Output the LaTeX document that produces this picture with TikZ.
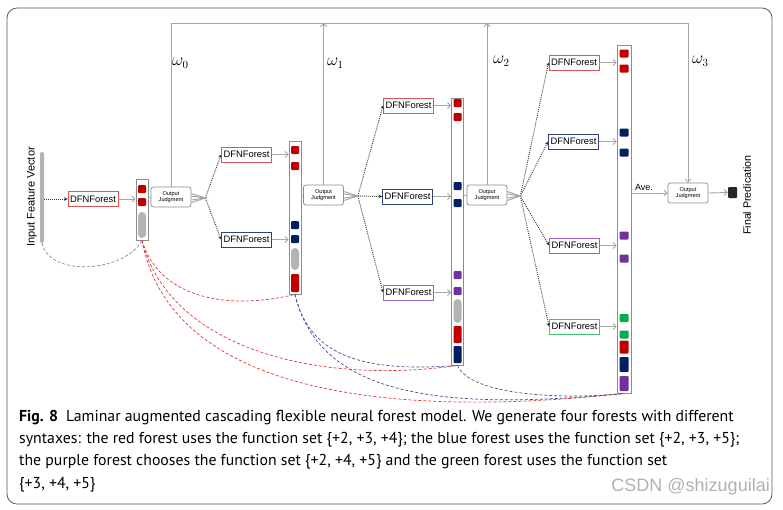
\documentclass[tikz,border=0pt]{standalone}
\usepackage{fontspec}
\setmainfont{Liberation Sans}
\newfontfamily\capfont{PT Sans}
\usetikzlibrary{arrows.meta,calc}
\definecolor{frm}{HTML}{5A5A5A}
\definecolor{lg}{HTML}{A6A6A6}
\definecolor{colb}{HTML}{8C8C8C}
\definecolor{rb}{HTML}{DC5658}
\definecolor{rs}{HTML}{C00000}
\definecolor{bb}{HTML}{334080}
\definecolor{bs}{HTML}{002060}
\definecolor{pb}{HTML}{9E60C8}
\definecolor{ps}{HTML}{7030A0}
\definecolor{gb}{HTML}{40C070}
\definecolor{gs}{HTML}{00B050}
\definecolor{pill}{HTML}{B4B4B4}
\definecolor{rdash}{HTML}{E03A3A}
\definecolor{bdash}{HTML}{44508C}
\begin{document}
\begin{tikzpicture}[x=1pt,y=-1pt,
 dfn/.style={draw=#1, line width=0.9pt, fill=white, minimum width=50pt, minimum height=15pt, inner sep=0pt, font=\fontsize{9.4}{10}\selectfont},
 colbox/.style={draw=colb, line width=0.9pt, fill=white, minimum width=12pt, inner sep=0pt},
 sq/.style={fill=#1, rounded corners=1pt, minimum width=8pt, minimum height=8pt, inner sep=0pt},
 tall/.style={fill=#1, rounded corners=1pt, minimum width=8pt, inner sep=0pt},
 pillbox/.style={fill=pill, rounded corners=4pt, minimum width=8pt, inner sep=0pt},
 oj/.style={draw=colb, fill=white, rounded corners=2.5pt, line width=0.7pt, minimum width=40pt, minimum height=20pt, inner sep=0pt, align=center, font=\fontsize{5.6}{6.5}\selectfont},
 gline/.style={draw=lg, line width=0.9pt},
 garrow/.style={gline, -{Straight Barb[length=3pt,width=6pt]}},
 darrow/.style={draw=black!80, line width=0.9pt, dash pattern=on 0.9pt off 1.1pt, -{Stealth[length=3.5pt,width=3.5pt]}},
 dcurve/.style={line width=0.7pt, dash pattern=on 3pt off 2pt},
 chev/.style={draw=lg, line width=1pt},
 wlab/.style={anchor=west, inner sep=0pt, font=\fontsize{16}{18}\selectfont},
]
\useasboundingbox (0,0) rectangle (783,509);
\fill[white] (0,0) rectangle (783,509);
\draw[frm, line width=0.8pt, rounded corners=10pt] (7,8) rectangle (772,504);

% input vector
\node[fill=pill, rounded corners=2pt, minimum width=4pt, minimum height=91pt, inner sep=0pt] (ifv) at (42,197.5) {};
\node[rotate=90, inner sep=0pt, font=\fontsize{11}{12}\selectfont] (ifvl) at (32,197) {Input Feature Vector};

% layer 1
\node[dfn=rb] (d1) at (93,199) {DFNForest};
\node[colbox, minimum height=61pt] (c1) at (142,209.5) {};
\node[sq=rs] (c1a) at (142,189) {};
\node[sq=rs] (c1b) at (142,202) {};
\node[pillbox, minimum height=26pt] (c1p) at (142,225) {};
\node[oj] (oj1) at (171,197) {Output\\Judgment};
\coordinate (ch1) at ($(oj1.east)+(14,1)$);

% layer 2
\node[dfn=rb] (d2r) at (246.5,154.5) {DFNForest};
\node[dfn=bb] (d2b) at (246.5,239.5) {DFNForest};
\node[colbox, minimum height=153pt] (c2) at (295,217.5) {};
\node[sq=rs] (c2a) at (295,150) {};
\node[sq=rs] (c2b) at (295,166) {};
\node[sq=bs] (c2c) at (295,225) {};
\node[sq=bs] (c2d) at (295,239) {};
\node[pillbox, minimum height=22pt] (c2p) at (295,259) {};
\node[tall=rs, minimum height=18pt] (c2e) at (295,283) {};
\node[oj] (oj2) at (323.5,195) {Output\\Judgment};
\coordinate (ch2) at ($(oj2.east)+(14,1)$);

% layer 3
\node[dfn=rb] (d3r) at (408.5,105.5) {DFNForest};
\node[dfn=bb] (d3b) at (407.5,196.5) {DFNForest};
\node[dfn=pb] (d3p) at (408.5,292.5) {DFNForest};
\node[colbox, minimum height=267pt] (c3) at (457.5,231.5) {};
\node[sq=rs] (c3a) at (457.5,103) {};
\node[sq=rs] (c3b) at (457.5,117) {};
\node[sq=bs] (c3c) at (457.5,186) {};
\node[sq=bs] (c3d) at (457.5,203) {};
\node[sq=ps] (c3e) at (457.5,275) {};
\node[sq=ps] (c3f) at (457.5,291) {};
\node[pillbox, minimum height=24pt] (c3p) at (457.5,311) {};
\node[tall=rs, minimum height=17pt] (c3g) at (457.5,334.5) {};
\node[tall=bs, minimum height=17pt] (c3h) at (457.5,354.5) {};
\node[oj] (oj3) at (487,195) {Output\\Judgment};
\coordinate (ch3) at ($(oj3.east)+(13,1)$);

% layer 4
\node[dfn=rb] (d4r) at (574,62.5) {DFNForest};
\node[dfn=bb] (d4b) at (573.5,141.5) {DFNForest};
\node[dfn=pb] (d4p) at (574.5,245.5) {DFNForest};
\node[dfn=gb] (d4g) at (574.5,326.5) {DFNForest};
\node[colbox, minimum width=14pt, minimum height=348pt] (c4) at (624,219) {};
\node[sq=rs, minimum width=9pt] (c4a) at (624,53.5) {};
\node[sq=rs, minimum width=9pt] (c4b) at (624,68.5) {};
\node[sq=bs, minimum width=9pt] (c4c) at (624,132.5) {};
\node[sq=bs, minimum width=9pt] (c4d) at (624,152.5) {};
\node[sq=ps, minimum width=9pt] (c4e) at (624,235.5) {};
\node[sq=ps, minimum width=9pt] (c4f) at (624,258.5) {};
\node[sq=gs, minimum width=9pt] (c4g) at (624,318) {};
\node[sq=gs, minimum width=9pt] (c4h) at (624,334.5) {};
\node[tall=rs, minimum width=9pt, minimum height=13pt] (c4i) at (624,347) {};
\node[tall=bs, minimum width=9pt, minimum height=15pt] (c4j) at (624,364.5) {};
\node[tall=ps, minimum width=9pt, minimum height=15pt] (c4k) at (624,383.5) {};

% final
\node[oj] (oj4) at (688,193) {Output\\Judgment};
\node[fill=black!85, rounded corners=1pt, minimum width=9pt, minimum height=11pt, inner sep=0pt] (fp) at (732.5,192.5) {};
\node[rotate=90, inner sep=0pt, font=\fontsize{10.7}{12}\selectfont] (fpl) at (747,195) {Final Predication};
\node[inner sep=0pt, font=\fontsize{9}{10}\selectfont] (ave) at (644,187) {Ave.};

% weight lines
\coordinate (tr) at (688,23);
\draw[gline] (oj1.north) |- (tr);
\draw[garrow] (tr) -- (oj4.north);
\draw[garrow] (oj2.north) -- (oj2.north |- tr);
\draw[garrow] (oj3.north) -- (oj3.north |- tr);
\node[wlab] (w0) at (172,63) {$\omega_0$};
\node[wlab] (w1) at (327,63) {$\omega_1$};
\node[wlab] (w2) at (493,61) {$\omega_2$};
\node[wlab] (w3) at (692,61) {$\omega_3$};

% dotted arrows
\draw[darrow] (ifv.east |- d1) -- (d1.west);
\draw[darrow] (ch1) -- (d2r.west);
\draw[darrow] (ch1) -- (d2b.west);
\draw[darrow] (ch2) -- (d3r.west);
\draw[darrow] (ch2) -- (d3b.west);
\draw[darrow] (ch2) -- (d3p.west);
\draw[darrow] (ch3) -- (d4r.west);
\draw[darrow] (ch3) -- (d4b.west);
\draw[darrow] (ch3) -- (d4p.west);
\draw[darrow] (ch3) -- (d4g.west);

% gray arrows into columns
\foreach \d/\c in {d1/c1,d2r/c2,d2b/c2,d3r/c3,d3b/c3,d3p/c3,d4r/c4,d4b/c4,d4p/c4,d4g/c4}
  \draw[garrow] (\d.east) -- (\d.east -| \c.west);
% columns to judgments
\foreach \c/\o in {c1/oj1,c2/oj2,c3/oj3}
  \draw[gline] (\o.west -| \c.east) -- (\o.west);
\draw[garrow] (oj4.west -| c4.east) -- (oj4.west);
\draw[garrow] (oj4.east) -- (fp.west);
% chevrons
\foreach \o/\t in {oj1/ch1,oj2/ch2,oj3/ch3}{
  \draw[chev] ($(\o.east)+(0,-3.5)$) -- (\t) -- ($(\o.east)+(0,5.5)$);
  \draw[chev] ($(\o.east)+(0,-1)$) -- (\t) -- ($(\o.east)+(0,3)$);
}

% dashed skip curves
\draw[dcurve, draw=black!45] (ifv.south) .. controls (50,278) and (125,272) .. (c1.south);
\draw[dcurve, draw=rdash] (c1.south) .. controls (160,300) and (230,310) .. (c2.south);
\draw[dcurve, draw=rdash] (c1.south) .. controls (170,350) and (320,385) .. (c3.south);
\draw[dcurve, draw=rdash] (c1.south) .. controls (170,390) and (380,420) .. (c4.south);
\draw[dcurve, draw=bdash] (c2.south) .. controls (310,360) and (370,372) .. (c3.south);
\draw[dcurve, draw=bdash] (c2.south) .. controls (320,400) and (450,410) .. (c4.south);
\draw[dcurve, draw=black!65] (c3.south) .. controls (470,395) and (560,400) .. (c4.south);

% caption
\begin{scope}[every node/.style={anchor=base west, inner sep=0pt, font=\capfont\fontsize{15.8}{18}\selectfont}]
\node (cap1) at (19,421) {{\bfseries Fig. 8}\enspace Laminar augmented cascading flexible neural forest model. We generate four forests with different};
\node (cap2) at (19,443) {syntaxes: the red forest uses the function set \{+2, +3, +4\}; the blue forest uses the function set \{+2, +3, +5\};};
\node (cap3) at (19,465) {the purple forest chooses the function set \{+2, +4, +5\} and the green forest uses the function set};
\node (cap4) at (19,488) {\{+3, +4, +5\}};
\end{scope}
\node[anchor=base east, inner sep=0pt, text=black!30, font=\fontsize{18}{20}\selectfont] (wm) at (770,491) {CSDN @shizuguilai};
\end{tikzpicture}
\end{document}
